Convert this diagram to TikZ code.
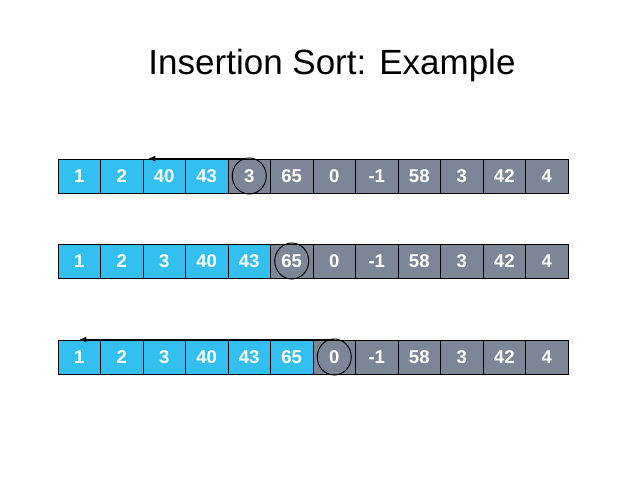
\documentclass[tikz,border=0pt]{standalone}
\usepackage{fontspec}
\setmainfont{Liberation Sans}
\usetikzlibrary{arrows.meta}
\definecolor{cy}{HTML}{33C0F0}
\definecolor{gr}{HTML}{7D8696}
\begin{document}
\begin{tikzpicture}[x=1pt,y=-1pt,
  cell/.style={draw=black,line width=0.8pt,minimum width=42.5pt,minimum height=34pt,inner sep=0pt,text=white,font=\bfseries\fontsize{18.5}{18.5}\selectfont},
  ring/.style={draw=black,line width=1pt},
  mv/.style={draw=black,line width=1pt,-{Latex[length=7pt,width=6pt]}}]
\useasboundingbox (0,0) rectangle (638,478);
\node[font=\fontsize{35}{35}\selectfont] (title) at (332,65) {Insertion Sort: Example};
\foreach \r/\y/\k/\vals in {a/176/4/{1,2,40,43,3,65,0,-1,58,3,42,4},b/261/5/{1,2,3,40,43,65,0,-1,58,3,42,4},c/357/6/{1,2,3,40,43,65,0,-1,58,3,42,4}}{
  \foreach \v [count=\i] in \vals {
    \pgfmathsetmacro{\xx}{58+42.5*(\i-0.5)}
    \ifnum\i>\k \def\fc{gr}\else\def\fc{cy}\fi
    \node[cell,fill=\fc] (\r\i) at (\xx,\y) {\v};
  }
}
\draw[ring] (a5.center) circle[x radius=17pt,y radius=18pt];
\draw[ring] (b6.center) circle[x radius=17pt,y radius=18pt];
\draw[ring] (c7.center) circle[x radius=17pt,y radius=18pt];
\coordinate (s1) at ([xshift=-2pt]a5.north);
\coordinate (e1) at ([xshift=-16pt]a3.north);
\draw[mv] (s1) -- (e1);
\coordinate (s3) at ([xshift=0pt]c7.north);
\coordinate (e3) at ([xshift=0pt]c1.north);
\draw[mv] (s3) -- (e3);
\end{tikzpicture}
\end{document}
